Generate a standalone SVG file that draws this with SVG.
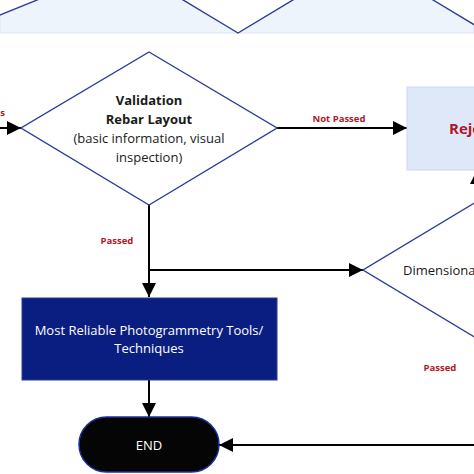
<svg xmlns="http://www.w3.org/2000/svg" width="474" height="474" viewBox="0 0 474 474">
<style>
.dia{fill:#fff;stroke:#2b3a97;stroke-width:1.4}
.conn{fill:none;stroke:#000;stroke-width:2}
.lbl{font-family:"Open Sans","Liberation Sans",sans-serif;font-size:9.5px;font-weight:bold;fill:#b0182a;text-anchor:middle}
.t{font-family:"Open Sans","Liberation Sans",sans-serif;font-size:13px;fill:#1a1a1a;text-anchor:middle}
.b{font-weight:bold}
.w{fill:#fff}
</style>
<defs>
<marker id="ah" markerUnits="userSpaceOnUse" markerWidth="14" markerHeight="14" viewBox="0 0 14 14" refX="14" refY="7" orient="auto">
<path d="M0,0 L14,7 L0,14 Z" fill="#000"/>
</marker>
</defs>
<g id="band">
<rect x="0" y="-2" width="474" height="35" fill="#eef4fc" stroke="#dde4ee" stroke-width="1"/>
<polygon class="dia" points="-86,-52 42,0 -86,52" transform="translate(0,-2)"/>
<polygon class="dia" points="110,-44 238,33 366,-44"/>
<polygon class="dia" points="433,0 561,77 689,0 561,-77"/>
</g>
<g id="connectors">
<line class="conn" x1="0" y1="128" x2="21" y2="128" marker-end="url(#ah)"/>
<line class="conn" x1="277" y1="128" x2="407" y2="128" marker-end="url(#ah)"/>
<line class="conn" x1="149" y1="205" x2="149" y2="297" marker-end="url(#ah)"/>
<line class="conn" x1="149" y1="270" x2="363" y2="270" marker-end="url(#ah)"/>
<line class="conn" x1="149" y1="380" x2="149" y2="417" marker-end="url(#ah)"/>
<line class="conn" x1="474" y1="445" x2="219" y2="445" marker-end="url(#ah)"/>
<line class="conn" x1="477" y1="200" x2="477" y2="170" marker-end="url(#ah)"/>
<text class="lbl" x="5" y="116" style="text-anchor:end">s</text>
<text class="lbl" x="339" y="122">Not Passed</text>
<text class="lbl" x="117" y="244">Passed</text>
<text class="lbl" x="440" y="371">Passed</text>
</g>
<g id="validation">
<polygon class="dia" points="149,52 277,128 149,205 21,128"/>
<text class="t b" x="149" y="105">Validation</text>
<text class="t b" x="149" y="124">Rebar Layout</text>
<text class="t" x="149" y="143">(basic information, visual</text>
<text class="t" x="149" y="162">inspection)</text>
</g>
<g id="reject">
<rect x="407" y="87" width="120" height="83" fill="#dfe8f8" stroke="#cdd8ec" stroke-width="1"/>
<text class="t b" x="449" y="134" style="text-anchor:start;fill:#b0182a;font-size:15px">Reject</text>
</g>
<g id="dimensional">
<polygon class="dia" points="491,193 619,270 491,347 363,270"/>
<text class="t" x="403" y="275" style="text-anchor:start">Dimensional</text>
</g>
<g id="tools">
<rect x="22" y="298" width="255" height="82" fill="#0a1e82" stroke="#2b3a97" stroke-width="1"/>
<text class="t w" x="149" y="335">Most Reliable Photogrammetry Tools/</text>
<text class="t w" x="149" y="353">Techniques</text>
</g>
<g id="end">
<rect x="79" y="417" width="140" height="55" rx="27.5" fill="#050505" stroke="#1d2f9a" stroke-width="1.5"/>
<text class="t w" x="149" y="450">END</text>
</g>
</svg>
